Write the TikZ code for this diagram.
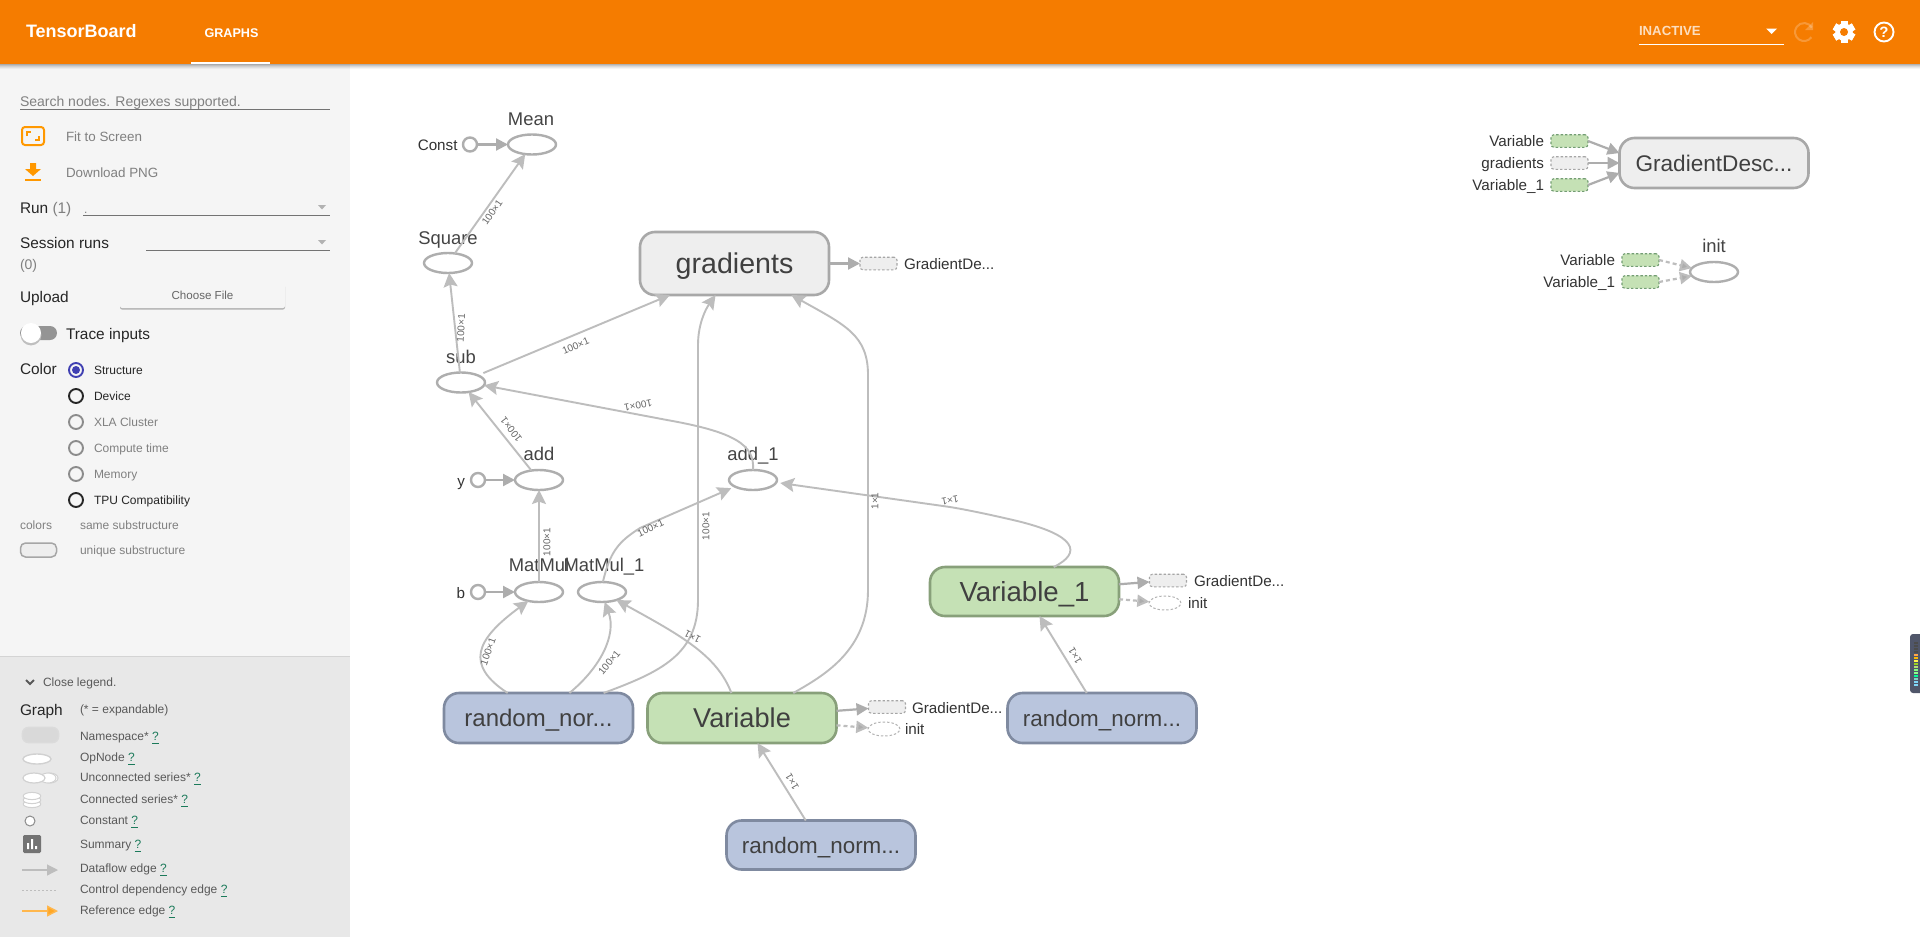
\documentclass[tikz,border=0pt]{standalone}
\usepackage{fontspec}
\setmainfont{Liberation Sans}
\usetikzlibrary{arrows.meta,shapes.geometric}
\newcommand{\pxfont}[1]{\fontsize{#1}{#1}\selectfont}
\newcommand{\boxtext}[1]{\smash{\raisebox{-.36em}{#1}}}
\definecolor{tborange}{HTML}{F57C00}
\definecolor{panelbg}{HTML}{F5F5F5}
\definecolor{legendbg}{HTML}{E8E8E8}
\definecolor{edgecol}{HTML}{BDBDBD}
\definecolor{edgedark}{HTML}{ADADAD}
\definecolor{nodeline}{HTML}{AEAEAE}
\definecolor{boxline}{HTML}{A8A8A8}
\definecolor{boxfill}{HTML}{EEEEEE}
\definecolor{bluefill}{HTML}{B9C5DD}
\definecolor{blueline}{HTML}{7F8AA0}
\definecolor{greenfill}{HTML}{C5E1B5}
\definecolor{greenline}{HTML}{88A07A}
\definecolor{dimtext}{HTML}{808080}
\definecolor{labtext}{HTML}{444444}
\definecolor{linktext}{HTML}{1B7A5A}
\definecolor{iconorange}{HTML}{FF9800}
\definecolor{refline}{HTML}{FFB74D}
\definecolor{reftip}{HTML}{FFA726}
\definecolor{widgetbg}{HTML}{50566A}
\newcommand{\qlink}{\textcolor{linktext}{\underline{?}}}
\tikzset{
  x=0.5pt,y=-0.5pt,
  txtbase/.style={inner sep=0pt,outer sep=0pt,execute at begin node=\vphantom{Ag}},
  txt/.style={txtbase,yshift=-1.2pt},
  sidetxt/.style={txt,anchor=west,text=dimtext,font=\pxfont{6.7}},
  darktxt/.style={txtbase,yshift=-.7pt,anchor=west,text=black!85,font=\pxfont{7.7}},
  legtxt/.style={txtbase,yshift=-.7pt,anchor=west,text=black!65,font=\pxfont{6}},
  nodelab/.style={txt,text=labtext,font=\pxfont{9.2}},
  sidelab/.style={txt,text=black!80,font=\pxfont{7.6}},
  edgelab/.style={txtbase,text=black!60,font=\pxfont{5}},
  opnode/.style={ellipse,draw=nodeline,line width=1.2pt,fill=white,inner sep=0pt,outer sep=0pt,minimum width=24pt,minimum height=10pt},
  constnode/.style={circle,draw=nodeline,line width=1.2pt,fill=white,inner sep=0pt,outer sep=0pt,minimum size=7pt},
  meta/.style={rectangle,rounded corners=7.5pt,line width=1.3pt,inner sep=0pt,outer sep=0pt,text=black!75,minimum width=94.5pt},
  graybox/.style={meta,draw=boxline,fill=boxfill},
  bluebox/.style={meta,draw=blueline,fill=bluefill},
  greenbox/.style={meta,draw=greenline,fill=greenfill},
  sidebox/.style={rectangle,rounded corners=1.5pt,dash pattern=on 1.2pt off 1pt,line width=.55pt,inner sep=0pt,outer sep=0pt,minimum width=18.5pt,minimum height=6.3pt},
  sidegray/.style={sidebox,draw=black!35,fill=boxfill},
  sidegreen/.style={sidebox,draw=green!30!black!55,fill=greenfill},
  sideell/.style={ellipse,dash pattern=on 1.2pt off 1pt,draw=black!30,line width=.5pt,fill=white,inner sep=0pt,outer sep=0pt,minimum width=16pt,minimum height=7pt},
  flow/.style={draw=edgecol,line width=.95pt,-{Stealth[length=7pt,width=7pt,inset=1.2pt,fill=edgecol]}},
  sideflow/.style={draw=edgedark,line width=1.1pt,-{Triangle[length=6pt,width=6pt,fill=edgedark]}},
  ctrlflow/.style={draw=edgecol,line width=1.1pt,dash pattern=on 2pt off 1.5pt,-{Triangle[length=6pt,width=6pt,fill=edgedark,sep=0pt]}},
  radio/.style={circle,line width=.95pt,fill=panelbg,inner sep=0pt,outer sep=0pt,minimum size=7pt},
}
\begin{document}
\begin{tikzpicture}
\useasboundingbox (0,0) rectangle (1920,937);
\fill[white] (0,0) rectangle (1920,937);
% panels
\fill[panelbg] (0,64) rectangle (350,656);
\fill[legendbg] (0,656) rectangle (350,937);
\draw[black!17,line width=.5pt] (0,656) -- (350,656);
% header
\foreach \s/\o in {0/.30,1/.22,2/.15,3/.09,4/.04}{\fill[black,opacity=\o] (0,64+\s) rectangle (1920,65+\s);}
\fill[tborange] (0,0) rectangle (1920,64);
\node[txt,anchor=west,text=white,font=\pxfont{9}\bfseries] (tbtitle) at (26,30.5) {TensorBoard};
\node[txt,anchor=center,text=white,font=\pxfont{6.3}\bfseries] (tabgraphs) at (231.5,32) {GRAPHS};
\fill[white] (191,62) rectangle (270,64);
\node[txt,anchor=west,text=white,opacity=.75,font=\pxfont{6.6}\bfseries] (inactive) at (1639,30) {INACTIVE};
\draw[white,line width=.5pt] (1639,44) -- (1784,44);
\fill[white] (1766,28.5) -- (1777,28.5) -- (1771.5,34) -- cycle;
% refresh icon
\draw[white,opacity=.22,line width=1pt] (1811.4,37.2) arc[start angle=35,end angle=330,radius=9];
\fill[white,opacity=.22] (1813,22) -- (1813,30) -- (1805,30) -- cycle;
% gear icon
\foreach \a in {0,60,...,300}{\fill[white,rotate around={\a:(1844,32)}] (1840.5,21) rectangle (1847.5,43);}
\fill[white] (1844,32) circle[radius=4.4pt];
\fill[tborange] (1844,32) circle[radius=2pt];
% help icon
\node[circle,draw=white,line width=.95pt,inner sep=0pt,minimum size=9.5pt,text=white,font=\pxfont{7.5}\bfseries] (helpicon) at (1884,32) {?};
% sidebar top
\node[sidetxt,font=\pxfont{7}] (search) at (20,100) {Search nodes. Regexes supported.};
\draw[black!55,line width=.5pt] (20,109) -- (330,109);
\draw[iconorange,line width=1pt,rounded corners=1.5pt] (22,127) rectangle (44,145);
\draw[iconorange,line width=.8pt] (27,136) -- (27,132) -- (31,132);
\draw[iconorange,line width=.8pt] (39,136) -- (39,140) -- (35,140);
\node[sidetxt] (fitscreen) at (66,136) {Fit to Screen};
\fill[iconorange] (30,163) -- (36,163) -- (36,169) -- (41,169) -- (33,176) -- (25,169) -- (30,169) -- cycle;
\fill[iconorange] (25,178.5) rectangle (41,180.5);
\node[sidetxt] (download) at (66,172) {Download PNG};
\node[darktxt] (runlab) at (20,208) {Run \textcolor{dimtext}{(1)}};
\node[txt,anchor=west,text=dimtext,font=\pxfont{6}] (rundot) at (84,208) {.};
\draw[black!55,line width=.5pt] (83,215) -- (330,215);
\fill[black!30] (318,205) -- (326,205) -- (322,209.5) -- cycle;
\node[darktxt] (sessionlab) at (20,243) {Session runs};
\draw[black!55,line width=.5pt] (146,250) -- (330,250);
\fill[black!30] (318,240) -- (326,240) -- (322,244.5) -- cycle;
\node[sidetxt,font=\pxfont{7}] (sessioncount) at (20,263) {(0)};
\node[darktxt] (uploadlab) at (20,297) {Upload};
\fill[black!30,rounded corners=1pt] (120,285) rectangle (285,309.5);
\node[rectangle,fill=panelbg,rounded corners=1pt,inner sep=0pt,minimum width=82.5pt,minimum height=12.5pt,text=black!60,font=\pxfont{5.8}] (choosefile) at (202.5,295.5) {Choose File};
\fill[black!42,rounded corners=3.5pt] (20,326) rectangle (57,340);
\fill[black!25] (31,335) circle[radius=5.2pt];
\fill[white] (31,333) circle[radius=5pt];
\node[darktxt] (tracelab) at (66,334) {Trace inputs};
\node[darktxt] (colorlab) at (20,369) {Color};
\node[radio,draw=blue!60!black!75] (rStructure) at (76,370) {};
\fill[blue!60!black!75] (rStructure) circle[radius=2pt];
\node[radio,draw=black!85] (rDevice) at (76,396) {};
\node[radio,draw=black!45] (rXla) at (76,422) {};
\node[radio,draw=black!45] (rTime) at (76,448) {};
\node[radio,draw=black!45] (rMem) at (76,474) {};
\node[radio,draw=black!85] (rTpu) at (76,500) {};
\node[legtxt,text=black!85] (tStructure) at (94,370) {Structure};
\node[legtxt,text=black!85] (tDevice) at (94,396) {Device};
\node[legtxt,text=dimtext] (tXla) at (94,422) {XLA Cluster};
\node[legtxt,text=dimtext] (tTime) at (94,448) {Compute time};
\node[legtxt,text=dimtext] (tMem) at (94,474) {Memory};
\node[legtxt,text=black!85] (tTpu) at (94,500) {TPU Compatibility};
\node[legtxt,text=dimtext] (tColors) at (20,525) {colors};
\node[legtxt,text=dimtext] (tSame) at (80,525) {same substructure};
\node[rectangle,rounded corners=2.5pt,draw=black!35,line width=.75pt,fill=boxfill,minimum width=18pt,minimum height=7pt,inner sep=0pt] (uniqbox) at (38.5,550) {};
\node[legtxt,text=dimtext] (tUnique) at (80,550) {unique substructure};
% legend
\draw[black!65,line width=.9pt] (26,680) -- (30,684) -- (34,680);
\node[legtxt] (closeleg) at (43,682) {Close legend.};
\node[darktxt] (graphlab) at (20,710) {Graph};
\node[legtxt] (expandable) at (80,709) {(* = expandable)};
\node[rectangle,rounded corners=3pt,draw=black!14,line width=.8pt,fill=black!15,minimum width=18pt,minimum height=7.5pt,inner sep=0pt] (legNs) at (40.5,735) {};
\node[legtxt] (tNs) at (80,737) {Namespace* \qlink};
\node[ellipse,draw=black!18,line width=.7pt,fill=white,minimum width=14pt,minimum height=5pt,inner sep=0pt] (legOp) at (37,759) {};
\node[legtxt] (tOp) at (80,758) {OpNode \qlink};
\foreach \cx in {50,48}{\draw[black!18,line width=.5pt,fill=white] (\cx,778) ellipse[x radius=4pt,y radius=2.5pt];}
\node[ellipse,draw=black!18,line width=.6pt,fill=white,minimum width=11pt,minimum height=5pt,inner sep=0pt] (legSeries) at (34,778) {};
\node[legtxt] (tSeries) at (80,778) {Unconnected series* \qlink};
\foreach \cy in {804,800,796}{\draw[black!18,line width=.5pt,fill=white] (32,\cy) ellipse[x radius=4.4pt,y radius=1.8pt];}
\node[legtxt] (tConn) at (80,800) {Connected series* \qlink};
\node[circle,draw=black!45,line width=.5pt,fill=white,minimum size=5pt,inner sep=0pt] (legConst) at (30,821) {};
\node[legtxt] (tConst) at (80,821) {Constant \qlink};
\fill[black!55,rounded corners=.7pt] (23,835) rectangle (41,853);
\fill[white] (27,843) rectangle (29,849) (31,839) rectangle (33,849) (35,846) rectangle (37,849);
\node[legtxt] (tSum) at (80,845) {Summary \qlink};
\draw[edgecol,line width=.6pt,-{Triangle[length=5.5pt,width=5.5pt,fill=edgecol]}] (22,870) -- (58,870);
\node[legtxt] (tFlow) at (80,869) {Dataflow edge \qlink};
\draw[edgecol,line width=.5pt,dash pattern=on 1pt off 1pt] (22,890) -- (58,890);
\node[legtxt] (tCtrl) at (80,890) {Control dependency edge \qlink};
\draw[refline,line width=.7pt,-{Triangle[length=5.5pt,width=5.5pt,fill=reftip]}] (22,911) -- (58,911);
\node[legtxt] (tRef) at (80,911) {Reference edge \qlink};
% widget at right edge
\fill[widgetbg,rounded corners=1.5pt] (1910,634) rectangle (1924,693);
\foreach \yy/\cc in {642/black!70,645/black!70,648/black!70,651/black!70,
  654/orange!70,657/orange!55!yellow,660/yellow!70,663/yellow!60!green,666/yellow!50!green!60,669/green!50,672/green!45,675/green!40!cyan,678/cyan!50!green!50,681/cyan!50,684/cyan!50}{
  \fill[\cc] (1914,\yy) rectangle (1918,\yy+1.5);}
% graph nodes
\node[opnode] (Mean) at (532,144.5) {};
\node[opnode] (Square) at (448,263) {};
\node[opnode] (sub) at (461,382.5) {};
\node[opnode] (add) at (539,480) {};
\node[opnode] (add1) at (753,480) {};
\node[opnode] (MatMul) at (539,592) {};
\node[opnode] (MatMul1) at (602,592) {};
\node[constnode] (Const) at (470,144.5) {};
\node[constnode] (y) at (478,480) {};
\node[constnode] (b) at (478,592) {};
\node[graybox,minimum height=31.5pt,font=\pxfont{14.3}] (gradients) at (734.5,263.5) {\boxtext{gradients}};
\node[bluebox,minimum height=25pt,font=\pxfont{12}] (randA) at (538.5,718) {\boxtext{random\_nor...}};
\node[greenbox,minimum height=25pt,font=\pxfont{13.6}] (Variable) at (742,718) {\boxtext{Variable}};
\node[greenbox,minimum height=24.5pt,font=\pxfont{13.8}] (Var1) at (1024.5,591.5) {\boxtext{Variable\_1}};
\node[bluebox,minimum height=24.5pt,font=\pxfont{11.2}] (randC) at (821,845) {\boxtext{random\_norm...}};
\node[bluebox,minimum height=25pt,font=\pxfont{11.2}] (randB) at (1102,718) {\boxtext{random\_norm...}};
\node[graybox,minimum height=25pt,font=\pxfont{11.3}] (GD) at (1714,163) {\boxtext{GradientDesc...}};
\node[opnode] (initN) at (1714,272) {};
% side boxes
\node[sidegray] (gradSide) at (878.5,263.5) {};
\node[sidegray] (var1Side) at (1168,580.5) {};
\node[sideell] (var1Init) at (1165,603) {};
\node[sidegray] (varSide) at (887,707) {};
\node[sideell] (varInit) at (884,729) {};
\node[sidegreen] (gdVar) at (1569.5,141) {};
\node[sidegray] (gdGrad) at (1569.5,163) {};
\node[sidegreen] (gdVar1) at (1569.5,185) {};
\node[sidegreen] (initVar) at (1640.5,260) {};
\node[sidegreen] (initVar1) at (1640.5,282) {};
% node labels
\node[nodelab] (lMean) at (531,119) {Mean};
\node[nodelab] (lSquare) at (448,238) {Square};
\node[nodelab] (lsub) at (461,356.5) {sub};
\node[nodelab] (ladd) at (539,453.5) {add};
\node[nodelab] (ladd1) at (753,453.5) {add\_1};
\node[nodelab] (lMatMul) at (539,564) {MatMul};
\node[nodelab] (lMatMul1) at (604,564) {MatMul\_1};
\node[nodelab] (linit) at (1714,245.5) {init};
\node[sidelab,anchor=east] (lConst) at (457.5,144.5) {Const};
\node[sidelab,anchor=east] (ly) at (465,480) {y};
\node[sidelab,anchor=east] (lb) at (465,592) {b};
\node[sidelab,anchor=west] (lgradSide) at (904,263.5) {GradientDe...};
\node[sidelab,anchor=west] (lvar1Side) at (1194,580) {GradientDe...};
\node[sidelab,anchor=west] (lvar1Init) at (1188,602) {init};
\node[sidelab,anchor=west] (lvarSide) at (912,707) {GradientDe...};
\node[sidelab,anchor=west] (lvarInit) at (905,728) {init};
\node[sidelab,anchor=east] (lgdVar) at (1544,140.5) {Variable};
\node[sidelab,anchor=east] (lgdGrad) at (1544,162.5) {gradients};
\node[sidelab,anchor=east] (lgdVar1) at (1544,184.5) {Variable\_1};
\node[sidelab,anchor=east] (linitVar) at (1615,259) {Variable};
\node[sidelab,anchor=east] (linitVar1) at (1615,281) {Variable\_1};
% edges
\draw[sideflow] (Const) -- (Mean);
\draw[flow] (Square) -- (Mean);
\draw[flow] (sub) -- (Square);
\draw[flow,shorten <=3pt] (sub.23) -- (gradients.206);
\draw[flow] (add1.north) .. controls (755,445) and (735,432) .. (667,420) -- (sub.353);
\draw[flow] (add) -- (sub);
\draw[sideflow] (y) -- (add);
\draw[flow] (MatMul) -- (add);
\draw[sideflow] (b) -- (MatMul);
\draw[flow,shorten >=2pt] (MatMul1.85) .. controls (610,552) and (618,542) .. (640,528) -- (add1.200);
\draw[flow] (randA.141.6) .. controls (465,665) and (475,640) .. (MatMul.220);
\draw[flow] (randA.39.3) .. controls (600,668) and (617,635) .. (MatMul1.285);
\draw[flow] (randA.21.5) .. controls (660,672) and (698,655) .. (698,600) -- (698,345) .. controls (698,325) and (705,310) .. (gradients.239.8);
\draw[flow] (Variable.113.7) .. controls (717,655) and (680,635) .. (MatMul1.331);
\draw[flow] (Variable.26) .. controls (825,675) and (868,650) .. (868,590) -- (868,375) .. controls (868,335) and (845,325) .. (gradients.331.8);
\draw[flow,shorten >=2pt] (Var1.40) .. controls (1082,553) and (1078,535) .. (1013,520) .. controls (985,513.5) and (965,509.5) .. (950,507) -- (add1.354);
\draw[flow] (randB) -- (Var1);
\draw[flow] (randC) -- (Variable);
\draw[sideflow] (gradients) -- (gradSide);
\draw[sideflow] (Var1) -- (var1Side);
\draw[ctrlflow] (Var1) -- (var1Init);
\draw[sideflow] (Variable) -- (varSide);
\draw[ctrlflow] (Variable) -- (varInit);
\draw[sideflow] (gdVar.east) -- (GD.174);
\draw[sideflow] (gdGrad.east) -- (GD.west);
\draw[sideflow] (gdVar1.east) -- (GD.186);
\draw[ctrlflow] (initVar.east) -- (initN.170);
\draw[ctrlflow] (initVar1.east) -- (initN.190);
% edge labels
\node[edgelab,rotate=55] (e1) at (493,213) {100×1};
\node[edgelab,rotate=87] (e2) at (462,328) {100×1};
\node[edgelab,rotate=23] (e3) at (576,347) {100×1};
\node[edgelab,rotate=190.6] (e4) at (638,404) {100×1};
\node[edgelab,rotate=128] (e5) at (512,429) {100×1};
\node[edgelab,rotate=90] (e6) at (548,542) {100×1};
\node[edgelab,rotate=25] (e7) at (651,529) {100×1};
\node[edgelab,rotate=70] (e8) at (489,652) {100×1};
\node[edgelab,rotate=50] (e9) at (610,663) {100×1};
\node[edgelab,rotate=90] (e10) at (707,526) {100×1};
\node[edgelab,rotate=152] (e11) at (693,636) {1×1};
\node[edgelab,rotate=90] (e12) at (876,501) {1×1};
\node[edgelab,rotate=190] (e13) at (950,499) {1×1};
\node[edgelab,rotate=120] (e14) at (1076,655) {1×1};
\node[edgelab,rotate=120] (e15) at (793,781) {1×1};
\end{tikzpicture}
\end{document}
